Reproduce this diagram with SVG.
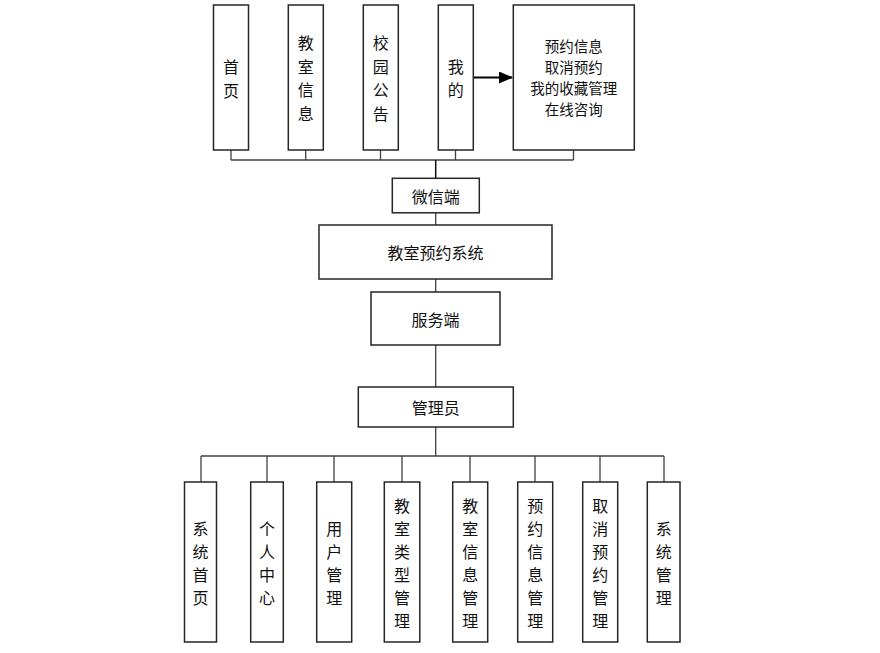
<svg xmlns="http://www.w3.org/2000/svg" width="880" height="653" viewBox="0 0 880 653">
<defs>
<style>
.b{fill:#fff;stroke:#262626;stroke-width:1.5}
.c{fill:none;stroke:#404040;stroke-width:1.3}
.k{fill:none;stroke:#111;stroke-width:1.5}
text{font-family:"Noto Sans CJK SC","Noto Sans",sans-serif;font-size:16px;fill:#111;text-anchor:middle;dominant-baseline:central}
.s{font-size:14.5px}
</style>
<marker id="ah" markerWidth="14" markerHeight="12" refX="13" refY="6" orient="auto" markerUnits="userSpaceOnUse">
<path d="M0,0 L14,6 L0,12 Z" fill="#000"/>
</marker>
</defs>
<rect width="880" height="653" fill="#fff"/>
<g id="connectors">
<path class="c" d="M231,150V160M305.7,150V160M380.5,150V160M455.5,150V160M573.5,150V160M231,160H573.5"/>
<path class="k" d="M435.7,160V178"/>
<path class="c" d="M435.7,213V225M435.7,279V292M435.7,345V387M435.7,427V456"/>
<path class="c" d="M201,456H664M201,456V482M267,456V482M334,456V482M402,456V482M470,456V482M535,456V482M600,456V482M664,456V482"/>
<path d="M473.5,77.5H512" stroke="#000" stroke-width="2.2" fill="none" marker-end="url(#ah)"/>
</g>
<g id="n-home"><rect class="b" x="213.5" y="5" width="35" height="145"/><text x="231" y="65.5">首</text><text x="231" y="89.5">页</text></g>
<g id="n-classinfo"><rect class="b" x="288.3" y="5" width="35" height="145"/><text x="305.8" y="42">教</text><text x="305.8" y="65.5">室</text><text x="305.8" y="89">信</text><text x="305.8" y="112.5">息</text></g>
<g id="n-notice"><rect class="b" x="363.3" y="5" width="35" height="145"/><text x="380.8" y="42">校</text><text x="380.8" y="65.5">园</text><text x="380.8" y="89">公</text><text x="380.8" y="112.5">告</text></g>
<g id="n-mine"><rect class="b" x="438.3" y="5" width="35" height="145"/><text x="455.8" y="65.5">我</text><text x="455.8" y="89">的</text></g>
<g id="n-mine-detail"><rect class="b" x="513.3" y="5" width="121" height="145"/><text class="s" x="573.8" y="45.5">预约信息</text><text class="s" x="573.8" y="66.5">取消预约</text><text class="s" x="573.8" y="87.5">我的收藏管理</text><text class="s" x="573.8" y="108.5">在线咨询</text></g>
<g id="n-wechat"><rect class="b" x="392.3" y="178.3" width="87" height="34.5"/><text x="435.8" y="195.5">微信端</text></g>
<g id="n-system"><rect class="b" x="319" y="225" width="233" height="54"/><text x="435.5" y="252">教室预约系统</text></g>
<g id="n-server"><rect class="b" x="371" y="292" width="129" height="53"/><text x="435.5" y="318.5">服务端</text></g>
<g id="n-admin"><rect class="b" x="358.3" y="387" width="155" height="40"/><text x="435.8" y="407">管理员</text></g>
<g id="n-syshome"><rect class="b" x="184.5" y="482" width="32" height="160"/><text x="200.5" y="527.5">系</text><text x="200.5" y="550.5">统</text><text x="200.5" y="573.5">首</text><text x="200.5" y="596.5">页</text></g>
<g id="n-personal"><rect class="b" x="250.7" y="482" width="32.6" height="160"/><text x="267" y="527.5">个</text><text x="267" y="550.5">人</text><text x="267" y="573.5">中</text><text x="267" y="596.5">心</text></g>
<g id="n-user"><rect class="b" x="316.7" y="482" width="35" height="160"/><text x="334.2" y="527.5">用</text><text x="334.2" y="550.5">户</text><text x="334.2" y="573.5">管</text><text x="334.2" y="596.5">理</text></g>
<g id="n-classtype"><rect class="b" x="384.3" y="482" width="35.5" height="160"/><text x="402" y="504.5">教</text><text x="402" y="527.5">室</text><text x="402" y="550.5">类</text><text x="402" y="573.5">型</text><text x="402" y="596.5">管</text><text x="402" y="619.5">理</text></g>
<g id="n-classmgmt"><rect class="b" x="452.7" y="482" width="35" height="160"/><text x="470.2" y="504.5">教</text><text x="470.2" y="527.5">室</text><text x="470.2" y="550.5">信</text><text x="470.2" y="573.5">息</text><text x="470.2" y="596.5">管</text><text x="470.2" y="619.5">理</text></g>
<g id="n-booking"><rect class="b" x="517.7" y="482" width="35" height="160"/><text x="535.2" y="504.5">预</text><text x="535.2" y="527.5">约</text><text x="535.2" y="550.5">信</text><text x="535.2" y="573.5">息</text><text x="535.2" y="596.5">管</text><text x="535.2" y="619.5">理</text></g>
<g id="n-cancel"><rect class="b" x="582.7" y="482" width="35" height="160"/><text x="600.2" y="504.5">取</text><text x="600.2" y="527.5">消</text><text x="600.2" y="550.5">预</text><text x="600.2" y="573.5">约</text><text x="600.2" y="596.5">管</text><text x="600.2" y="619.5">理</text></g>
<g id="n-sysmgmt"><rect class="b" x="647.3" y="482" width="32.7" height="160"/><text x="663.7" y="527.5">系</text><text x="663.7" y="550.5">统</text><text x="663.7" y="573.5">管</text><text x="663.7" y="596.5">理</text></g>
</svg>
